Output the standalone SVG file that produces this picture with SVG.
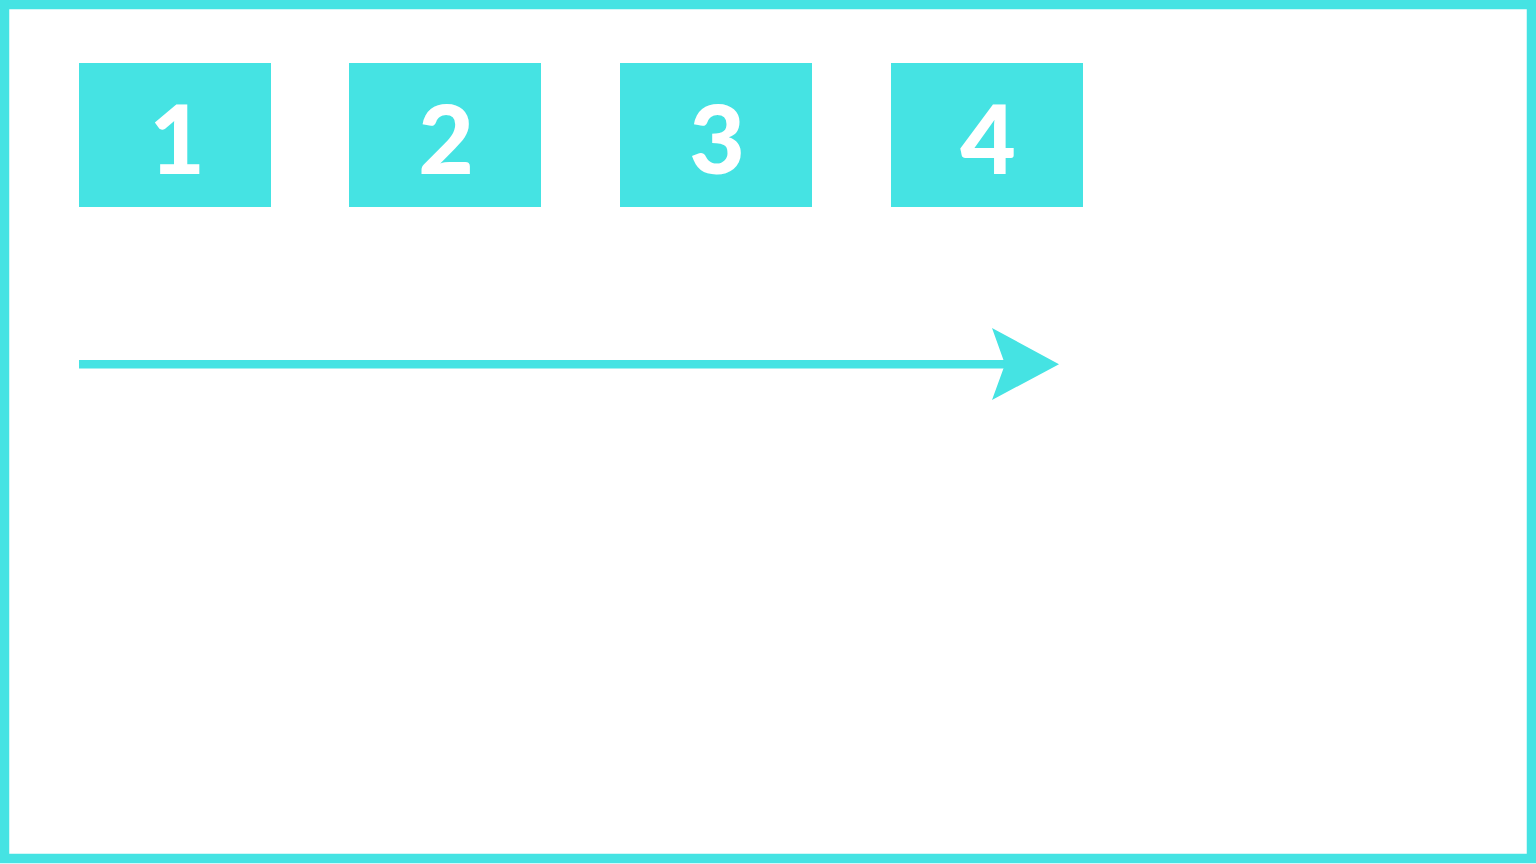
<svg xmlns="http://www.w3.org/2000/svg" width="1536" height="864" viewBox="0 0 1536 864">
<style>
.box{fill:#45E3E3}
.num{fill:#FFFFFF;font-family:Lato,"Liberation Sans",sans-serif;font-weight:900;font-size:96px;text-anchor:middle}
</style>
<rect x="0" y="0" width="1536" height="864" fill="#FFFFFF"/>
<rect x="4.5" y="4.5" width="1527" height="854" fill="none" stroke="#45E3E3" stroke-width="9.5"/>
<g id="node1"><rect class="box" x="79" y="63" width="192" height="144"/><text class="num" x="177" y="174">1</text></g>
<g id="node2"><rect class="box" x="349" y="63" width="192" height="144"/><text class="num" x="446" y="174">2</text></g>
<g id="node3"><rect class="box" x="620" y="63" width="192" height="144"/><text class="num" x="717" y="174">3</text></g>
<g id="node4"><rect class="box" x="891" y="63" width="192" height="144"/><text class="num" x="988" y="174">4</text></g>
<g id="connectors">
<rect x="79" y="360" width="927" height="8.5" fill="#45E3E3"/>
<polygon points="992,328 1059,364.2 992,400 1005,364.2" fill="#45E3E3"/>
</g>
</svg>
